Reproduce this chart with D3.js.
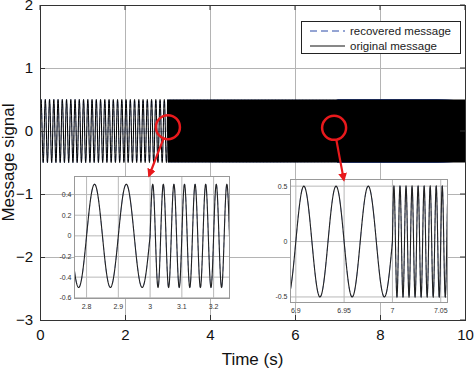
<!DOCTYPE html>
<html>
<head>
<meta charset="utf-8">
<script src="https://cdn.jsdelivr.net/npm/d3@7"></script>
<style>
  html, body { margin: 0; padding: 0; background: #fff; }
  svg { display: block; font-family: "Liberation Sans", Arial, sans-serif; }
</style>
</head>
<body>
<svg id="chart" width="474" height="370"></svg>
<script>
// ---- data ----
// message signal: piecewise sinusoid segments
const segStart = [0, 3, 7];
const segEnd = [3, 7, 10];
const segFreq = [10, 30, 160];      // Hz
const segAmp = [0.5, 0.5, 0.5];
const xTicks = [0, 2, 4, 6, 8, 10];
const yTicks = [-3, -2, -1, 0, 1, 2];
const legendLabels = ["recovered message", "original message"];
// inset 1
const inset1XDomain = [2.762, 3.25];
const inset1YDomain = [-0.607, 0.575];
const inset1XTicks = [2.8, 2.9, 3, 3.1, 3.2];
const inset1YTicks = [-0.6, -0.4, -0.2, 0, 0.2, 0.4];
// inset 2
const inset2XDomain = [6.8945, 7.057];
const inset2YDomain = [-0.55, 0.56];
const inset2XTicks = [6.9, 6.95, 7, 7.05];
const inset2YTicks = [-0.5, 0, 0.5];
// red annotation circles (data coords) and arrow tips (data coords)
const markCenters = [[3.01, 0.06], [6.92, 0.05]];
const arrowTips = [[2.565, -0.714], [7.15, -0.78]];

// ---- helpers ----
function sampleSeg(i, t0, t1, ppc) {
  const pts = [];
  const a = Math.max(t0, segStart[i]), b = Math.min(t1, segEnd[i]);
  if (a >= b) return pts;
  const dt = 1 / (segFreq[i] * ppc);
  for (let t = a; t < b; t += dt) pts.push([t, segAmp[i] * Math.sin(2 * Math.PI * segFreq[i] * t)]);
  pts.push([b, segAmp[i] * Math.sin(2 * Math.PI * segFreq[i] * b)]);
  return pts;
}
function sampleRange(t0, t1, ppc) {
  let pts = [];
  for (let i = 0; i < segStart.length; i++) pts = pts.concat(sampleSeg(i, t0, t1, ppc));
  return pts;
}

const svg = d3.select("#chart");
const W = 474, H = 370;
const m = { left: 40, right: 9, top: 5, bottom: 50 };
const pw = W - m.left - m.right, ph = H - m.top - m.bottom;

const x = d3.scaleLinear().domain([0, 10]).range([m.left, m.left + pw]);
const y = d3.scaleLinear().domain([-3, 2]).range([m.top + ph, m.top]);

const defs = svg.append("defs");
defs.append("clipPath").attr("id", "clipMain").append("rect")
  .attr("x", m.left).attr("y", m.top).attr("width", pw).attr("height", ph);

// grid
const grid = svg.append("g");
grid.selectAll(".gx").data(xTicks.slice(1, -1)).join("line")
  .attr("x1", d => x(d)).attr("x2", d => x(d)).attr("y1", m.top).attr("y2", m.top + ph)
  .attr("stroke", "#b4b4b4").attr("stroke-width", 1).attr("shape-rendering", "crispEdges");
grid.selectAll(".gy").data(yTicks.slice(1, -1)).join("line")
  .attr("y1", d => y(d)).attr("y2", d => y(d)).attr("x1", m.left).attr("x2", m.left + pw)
  .attr("stroke", "#b4b4b4").attr("stroke-width", 1).attr("shape-rendering", "crispEdges");

// main signal (one path per segment)
const lineMain = d3.line().x(d => x(d[0])).y(d => y(d[1]));
const gMain = svg.append("g").attr("clip-path", "url(#clipMain)");
segStart.forEach((s, i) => {
  const segData = sampleSeg(i, 0, 10, 24);
  gMain.append("path").attr("d", lineMain(segData)).attr("fill", "none")
    .attr("stroke", "#1f3f9f").attr("stroke-width", 0.5).attr("stroke-dasharray", "6,3");
  gMain.append("path").attr("d", lineMain(segData)).attr("fill", "none")
    .attr("stroke", "#000").attr("stroke-width", segFreq[i] < 20 ? 1 : 1.5);
});

// axes (ticks inward)
const axB = d3.axisBottom(x).tickValues(xTicks).tickSizeInner(-5).tickSizeOuter(0).tickPadding(9).tickFormat(d3.format("d"));
const axL = d3.axisLeft(y).tickValues(yTicks).tickSizeInner(-5).tickSizeOuter(0).tickPadding(7).tickFormat(d3.format("d"));
const gB = svg.append("g").attr("transform", `translate(0,${m.top + ph})`).call(axB);
const gL = svg.append("g").attr("transform", `translate(${m.left},0)`).call(axL);
[gB, gL].forEach(g => {
  g.select(".domain").remove();
  g.selectAll(".tick line").attr("stroke", "#333");
  g.selectAll(".tick text").attr("font-size", 15).attr("fill", "#111")
    .attr("font-family", "'Liberation Sans', Arial, sans-serif");
});
// top/right ticks
svg.append("g").selectAll("line").data(xTicks).join("line")
  .attr("x1", d => x(d)).attr("x2", d => x(d)).attr("y1", m.top).attr("y2", m.top + 5).attr("stroke", "#333");
svg.append("g").selectAll("line").data(yTicks).join("line")
  .attr("y1", d => y(d)).attr("y2", d => y(d)).attr("x1", m.left + pw).attr("x2", m.left + pw - 5).attr("stroke", "#333");

// frame
svg.append("rect").attr("x", m.left).attr("y", m.top).attr("width", pw).attr("height", ph)
  .attr("fill", "none").attr("stroke", "#333").attr("stroke-width", 1).attr("shape-rendering", "crispEdges");

// axis labels
svg.append("text").attr("x", m.left + pw / 2).attr("y", 365).attr("text-anchor", "middle")
  .attr("font-size", 17).attr("fill", "#111").text("Time (s)");
svg.append("text").attr("transform", `translate(14,${y(-0.5)}) rotate(-90)`).attr("text-anchor", "middle")
  .attr("font-size", 17).attr("fill", "#111").text("Message signal");

// legend
const lg = svg.append("g");
lg.append("rect").attr("x", 301.5).attr("y", 21.5).attr("width", 159).attr("height", 32)
  .attr("fill", "#fff").attr("stroke", "#222").attr("stroke-width", 1);
lg.append("line").attr("x1", 310).attr("x2", 345).attr("y1", 31).attr("y2", 31)
  .attr("stroke", "#2a4aa8").attr("stroke-width", 1).attr("stroke-dasharray", "7,4");
lg.append("line").attr("x1", 310).attr("x2", 345).attr("y1", 46).attr("y2", 46)
  .attr("stroke", "#111").attr("stroke-width", 1);
lg.selectAll("text").data(legendLabels).join("text")
  .attr("x", 350).attr("y", (d, i) => 35 + i * 15).attr("font-size", 11.5).attr("fill", "#222").text(d => d);

// insets
function drawInset(id, box, xDom, yDom, xT, yT, fmt) {
  const ix = d3.scaleLinear().domain(xDom).range([box.x, box.x + box.w]);
  const iy = d3.scaleLinear().domain(yDom).range([box.y + box.h, box.y]);
  const g = svg.append("g");
  defs.append("clipPath").attr("id", id).append("rect")
    .attr("x", box.x).attr("y", box.y).attr("width", box.w).attr("height", box.h);
  g.append("rect").attr("x", box.x).attr("y", box.y).attr("width", box.w).attr("height", box.h).attr("fill", "#fff");
  g.selectAll(".vx").data(xT).join("line")
    .attr("x1", d => ix(d)).attr("x2", d => ix(d)).attr("y1", box.y).attr("y2", box.y + box.h)
    .attr("stroke", "#b8b8b8").attr("stroke-width", 1);
  g.selectAll(".hy").data(yT).join("line")
    .attr("y1", d => iy(d)).attr("y2", d => iy(d)).attr("x1", box.x).attr("x2", box.x + box.w)
    .attr("stroke", "#b8b8b8").attr("stroke-width", 1);
  const data = sampleRange(xDom[0], xDom[1], 80);
  const ln = d3.line().x(d => ix(d[0])).y(d => iy(d[1]));
  const gc = g.append("g").attr("clip-path", `url(#${id})`);
  gc.append("path").attr("d", ln(data)).attr("fill", "none")
    .attr("stroke", "#2a4aa8").attr("stroke-width", 0.5).attr("stroke-dasharray", "5,3");
  gc.append("path").attr("d", ln(data)).attr("fill", "none")
    .attr("stroke", "#222").attr("stroke-width", 1.1);
  g.append("rect").attr("x", box.x).attr("y", box.y).attr("width", box.w).attr("height", box.h)
    .attr("fill", "none").attr("stroke", "#999").attr("stroke-width", 1);
  g.selectAll(".tx").data(xT).join("text")
    .attr("x", d => ix(d)).attr("y", box.y + box.h + 10).attr("text-anchor", "middle")
    .attr("font-size", 7).attr("fill", "#333").text(d => fmt(d));
  g.selectAll(".ty").data(yT).join("text")
    .attr("x", box.x - 3).attr("y", d => iy(d) + 2.5).attr("text-anchor", "end")
    .attr("font-size", 7).attr("fill", "#333").text(d => fmt(d));
}
const fmtG = d => String(+d.toFixed(3));
drawInset("clipIn1", { x: 74.5, y: 176.5, w: 155, h: 122 }, inset1XDomain, inset1YDomain, inset1XTicks, inset1YTicks, fmtG);
drawInset("clipIn2", { x: 290.5, y: 179.5, w: 157, h: 123 }, inset2XDomain, inset2YDomain, inset2XTicks, inset2YTicks, fmtG);

// red annotations
const ann = svg.append("g");
const R = 12;
defs.append("marker").attr("id", "arrowHead").attr("viewBox", "0 0 10 10").attr("refX", 8).attr("refY", 5)
  .attr("markerWidth", 4).attr("markerHeight", 4).attr("orient", "auto")
  .append("path").attr("d", "M0,0 L10,5 L0,10 z").attr("fill", "#e8191c");
markCenters.forEach((c, i) => {
  const cx = x(c[0]), cy = y(c[1]);
  ann.append("circle").attr("cx", cx).attr("cy", cy).attr("r", R)
    .attr("fill", "none").attr("stroke", "#e8191c").attr("stroke-width", 2.5);
  const tx = x(arrowTips[i][0]), ty = y(arrowTips[i][1]);
  const ang = Math.atan2(ty - cy, tx - cx);
  ann.append("line").attr("x1", cx + R * Math.cos(ang)).attr("y1", cy + R * Math.sin(ang))
    .attr("x2", tx).attr("y2", ty).attr("stroke", "#e8191c").attr("stroke-width", 2.2)
    .attr("marker-end", "url(#arrowHead)");
});
</script>
</body>
</html>
